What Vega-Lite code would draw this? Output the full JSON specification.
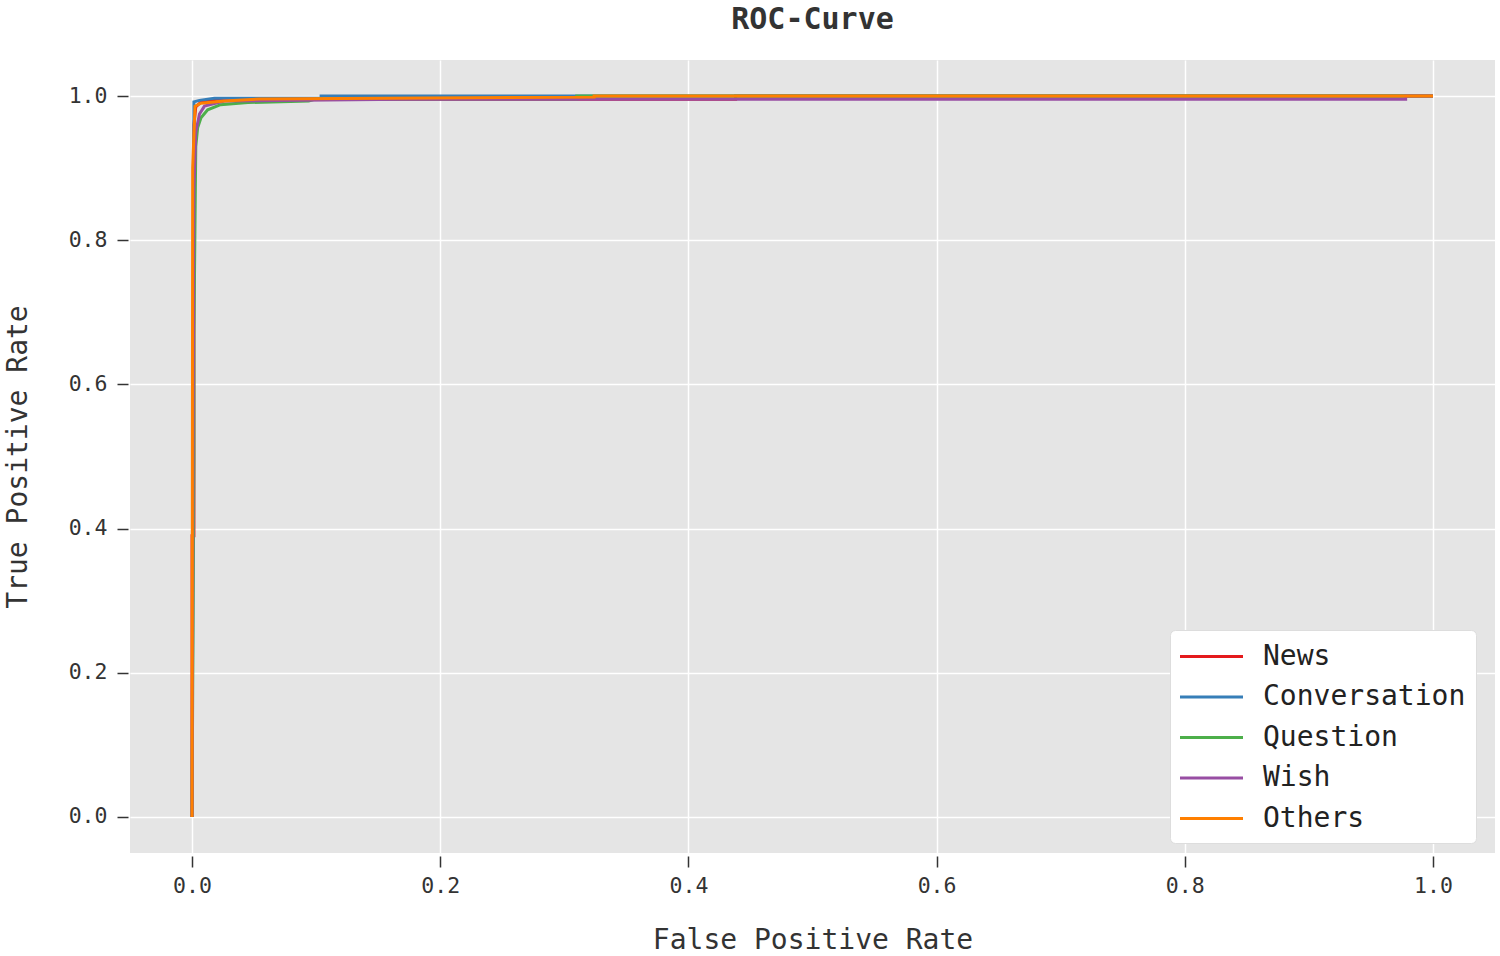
{
  "$schema": "https://vega.github.io/schema/vega-lite/v6.json",
  "autosize": {"type": "none"},
  "padding": {"left": 130, "top": 60, "right": 5, "bottom": 103},
  "width": 1365,
  "height": 793,
  "background": "white",
  "title": {
    "text": "ROC-Curve",
    "font": "DejaVu Sans Mono",
    "fontSize": 30,
    "fontWeight": "bold",
    "color": "#333333",
    "anchor": "middle",
    "offset": 25
  },
  "config": {
    "view": {"fill": "#e5e5e5", "stroke": null},
    "font": "DejaVu Sans Mono"
  },
  "data": {
    "values": [
      {"cls": "News", "o": 0, "fpr": 0.0, "tpr": 0.0},
      {"cls": "News", "o": 1, "fpr": 0.0, "tpr": 0.39},
      {"cls": "News", "o": 2, "fpr": 0.0015, "tpr": 0.39},
      {"cls": "News", "o": 3, "fpr": 0.0015, "tpr": 0.96},
      {"cls": "News", "o": 4, "fpr": 0.003, "tpr": 0.985},
      {"cls": "News", "o": 5, "fpr": 0.008, "tpr": 0.993},
      {"cls": "News", "o": 6, "fpr": 0.02, "tpr": 0.9955},
      {"cls": "News", "o": 7, "fpr": 0.438, "tpr": 0.9955},
      {"cls": "News", "o": 8, "fpr": 0.438, "tpr": 1.0},
      {"cls": "News", "o": 9, "fpr": 1.0, "tpr": 1.0},
      {"cls": "Conversation", "o": 0, "fpr": 0.0, "tpr": 0.0},
      {"cls": "Conversation", "o": 1, "fpr": 0.001, "tpr": 0.5},
      {"cls": "Conversation", "o": 2, "fpr": 0.0015, "tpr": 0.992},
      {"cls": "Conversation", "o": 3, "fpr": 0.006, "tpr": 0.994},
      {"cls": "Conversation", "o": 4, "fpr": 0.018, "tpr": 0.997},
      {"cls": "Conversation", "o": 5, "fpr": 0.104, "tpr": 0.997},
      {"cls": "Conversation", "o": 6, "fpr": 0.104, "tpr": 1.0},
      {"cls": "Conversation", "o": 7, "fpr": 1.0, "tpr": 1.0},
      {"cls": "Question", "o": 0, "fpr": 0.0, "tpr": 0.0},
      {"cls": "Question", "o": 1, "fpr": 0.0015, "tpr": 0.5},
      {"cls": "Question", "o": 2, "fpr": 0.0015, "tpr": 0.67},
      {"cls": "Question", "o": 3, "fpr": 0.003, "tpr": 0.93},
      {"cls": "Question", "o": 4, "fpr": 0.0045, "tpr": 0.956},
      {"cls": "Question", "o": 5, "fpr": 0.0072, "tpr": 0.97},
      {"cls": "Question", "o": 6, "fpr": 0.0126, "tpr": 0.981},
      {"cls": "Question", "o": 7, "fpr": 0.023, "tpr": 0.988},
      {"cls": "Question", "o": 8, "fpr": 0.045, "tpr": 0.991},
      {"cls": "Question", "o": 9, "fpr": 0.094, "tpr": 0.993},
      {"cls": "Question", "o": 10, "fpr": 0.1, "tpr": 0.996},
      {"cls": "Question", "o": 11, "fpr": 0.31, "tpr": 0.996},
      {"cls": "Question", "o": 12, "fpr": 0.31, "tpr": 1.0},
      {"cls": "Question", "o": 13, "fpr": 1.0, "tpr": 1.0},
      {"cls": "Wish", "o": 0, "fpr": 0.0, "tpr": 0.0},
      {"cls": "Wish", "o": 1, "fpr": 0.0015, "tpr": 0.87},
      {"cls": "Wish", "o": 2, "fpr": 0.003, "tpr": 0.95},
      {"cls": "Wish", "o": 3, "fpr": 0.006, "tpr": 0.975},
      {"cls": "Wish", "o": 4, "fpr": 0.01, "tpr": 0.986},
      {"cls": "Wish", "o": 5, "fpr": 0.026, "tpr": 0.993},
      {"cls": "Wish", "o": 6, "fpr": 0.17, "tpr": 0.9955},
      {"cls": "Wish", "o": 7, "fpr": 0.978, "tpr": 0.9955},
      {"cls": "Wish", "o": 8, "fpr": 0.978, "tpr": 1.0},
      {"cls": "Wish", "o": 9, "fpr": 1.0, "tpr": 1.0},
      {"cls": "Others", "o": 0, "fpr": 0.0, "tpr": 0.0},
      {"cls": "Others", "o": 1, "fpr": 0.0005, "tpr": 0.9},
      {"cls": "Others", "o": 2, "fpr": 0.0024, "tpr": 0.986},
      {"cls": "Others", "o": 3, "fpr": 0.0072, "tpr": 0.99},
      {"cls": "Others", "o": 4, "fpr": 0.026, "tpr": 0.993},
      {"cls": "Others", "o": 5, "fpr": 0.055, "tpr": 0.996},
      {"cls": "Others", "o": 6, "fpr": 0.324, "tpr": 0.9985},
      {"cls": "Others", "o": 7, "fpr": 0.324, "tpr": 1.0},
      {"cls": "Others", "o": 8, "fpr": 1.0, "tpr": 1.0}
    ]
  },
  "mark": {"type": "line", "strokeWidth": 3, "clip": true},
  "encoding": {
    "x": {
      "field": "fpr",
      "type": "quantitative",
      "scale": {"domain": [-0.05, 1.05], "nice": false, "zero": false},
      "axis": {
        "title": "False Positive Rate",
        "values": [0, 0.2, 0.4, 0.6, 0.8, 1.0],
        "format": ".1f",
        "domain": false,
        "offset": 3,
        "tickSize": 11,
        "tickWidth": 1.5,
        "tickColor": "#333333",
        "labelFontSize": 21.5,
        "labelColor": "#333333",
        "labelPadding": 8,
        "titleFontSize": 28,
        "titleFontWeight": "normal",
        "titleColor": "#333333",
        "titlePadding": 30,
        "gridColor": "white",
        "gridWidth": 1.5,
        "gridOpacity": 1
      }
    },
    "y": {
      "field": "tpr",
      "type": "quantitative",
      "scale": {"domain": [-0.05, 1.05], "nice": false, "zero": false},
      "axis": {
        "title": "True Positive Rate",
        "values": [0, 0.2, 0.4, 0.6, 0.8, 1.0],
        "format": ".1f",
        "domain": false,
        "offset": 2,
        "tickSize": 11,
        "tickWidth": 1.5,
        "tickColor": "#333333",
        "labelFontSize": 21.5,
        "labelColor": "#333333",
        "labelPadding": 10,
        "titleFontSize": 28,
        "titleFontWeight": "normal",
        "titleColor": "#333333",
        "titlePadding": 36,
        "gridColor": "white",
        "gridWidth": 1.5,
        "gridOpacity": 1
      }
    },
    "color": {
      "field": "cls",
      "type": "nominal",
      "sort": ["News", "Conversation", "Question", "Wish", "Others"],
      "scale": {
        "domain": ["News", "Conversation", "Question", "Wish", "Others"],
        "range": ["#e41a1c", "#377eb8", "#4daf4a", "#984ea3", "#ff7f00"]
      },
      "legend": {
        "title": null,
        "orient": "none",
        "legendX": 1040,
        "legendY": 570,
        "fillColor": "white",
        "strokeColor": "#dddddd",
        "cornerRadius": 5,
        "padding": 10,
        "symbolType": "M-1.1,0H3.1",
        "symbolSize": 900,
        "symbolStrokeWidth": 3,
        "labelFontSize": 28,
        "labelColor": "#222222",
        "labelOffset": 50,
        "rowPadding": 9.5,
        "labelLimit": 400
      }
    },
    "order": {"field": "o", "type": "quantitative"}
  }
}
